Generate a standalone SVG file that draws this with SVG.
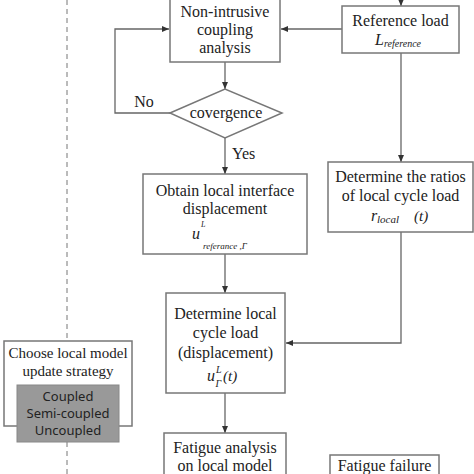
<svg xmlns="http://www.w3.org/2000/svg" width="474" height="474" viewBox="0 0 474 474">
<defs>
<marker id="ah" markerWidth="8" markerHeight="8" refX="7" refY="4" orient="auto" markerUnits="userSpaceOnUse">
<path d="M0,1 L7,4 L0,7 Z" fill="#333"/>
</marker>
<style>
.box{fill:#fff;stroke:#777;stroke-width:1.5}
.ln{fill:none;stroke:#666;stroke-width:1.3}
.t{font-family:"Liberation Serif","Times New Roman",serif;font-size:16px;fill:#222;text-anchor:middle}
.it{font-family:"Liberation Serif","Times New Roman",serif;font-style:italic;fill:#222}
.s{font-family:"Noto Sans","Liberation Sans",Arial,sans-serif;font-size:13px;fill:#222;text-anchor:middle}
</style>
</defs>
<rect width="474" height="474" fill="#fff"/>
<g id="divider">
<line x1="67" y1="0" x2="67" y2="341" stroke="#777" stroke-width="1" stroke-dasharray="5,4"/>
<line x1="67" y1="442" x2="67" y2="474" stroke="#777" stroke-width="1" stroke-dasharray="5,4"/>
</g>
<g id="connectors">
<path class="ln" d="M401,0 L401,6" marker-end="url(#ah)"/>
<path class="ln" d="M342,29 L281,29" marker-end="url(#ah)"/>
<path class="ln" d="M225,62 L225,89" marker-end="url(#ah)"/>
<path class="ln" d="M170,113 L115,113 L115,29 L169,29" marker-end="url(#ah)"/>
<path class="ln" d="M225,138 L225,174" marker-end="url(#ah)"/>
<path class="ln" d="M401,53 L401,162" marker-end="url(#ah)"/>
<path class="ln" d="M225,254 L225,293" marker-end="url(#ah)"/>
<path class="ln" d="M401,232 L401,343 L286,343" marker-end="url(#ah)"/>
<path class="ln" d="M225,393 L225,433" marker-end="url(#ah)"/>
<text x="144" y="107" class="t">No</text>
<text x="232" y="159" class="t" style="text-anchor:start">Yes</text>
</g>
<g id="coupling">
<rect class="box" x="170" y="-5" width="110" height="67"/>
<text class="t" x="225" y="17">Non-intrusive</text>
<text class="t" x="225" y="35">coupling</text>
<text class="t" x="225" y="53">analysis</text>
</g>
<g id="reference">
<rect class="box" x="342" y="6" width="117" height="47"/>
<text class="t" x="400.5" y="26">Reference load</text>
<text class="it" x="375" y="45" font-size="16">L</text>
<text class="it" x="384" y="47" font-size="10">reference</text>
</g>
<g id="convergence">
<polygon points="170,113 225,89 282,113 225,138" fill="#fff" stroke="#777" stroke-width="1.5"/>
<text class="t" x="226" y="118">covergence</text>
</g>
<g id="obtain">
<rect class="box" x="143" y="174" width="164" height="80"/>
<text class="t" x="225" y="196">Obtain local interface</text>
<text class="t" x="225" y="214">displacement</text>
<text class="it" x="192" y="239" font-size="16">u</text>
<text class="it" x="201" y="227" font-size="8">L</text>
<text class="it" x="203" y="249" font-size="9">referance ,Γ</text>
</g>
<g id="ratios">
<rect class="box" x="328" y="162" width="145" height="70"/>
<text class="t" x="400.5" y="182">Determine the ratios</text>
<text class="t" x="400.5" y="201">of local cycle load</text>
<text class="it" x="371" y="221" font-size="16">r</text>
<text class="it" x="377" y="223" font-size="11">local</text>
<text class="it" x="414" y="221" font-size="15">(t)</text>
</g>
<g id="determine">
<rect class="box" x="166" y="293" width="119" height="100"/>
<text class="t" x="225.5" y="319">Determine local</text>
<text class="t" x="225.5" y="338">cycle load</text>
<text class="t" x="225.5" y="358">(displacement)</text>
<text class="it" x="207" y="381" font-size="16">u</text>
<text class="it" x="216" y="373" font-size="10">L</text>
<text class="it" x="215.5" y="387" font-size="10" font-style="normal">Γ</text>
<text class="it" x="223" y="381" font-size="15">(t)</text>
</g>
<g id="strategy">
<rect class="box" x="4" y="341" width="128" height="85"/>
<text class="t" x="68" y="358" style="font-size:15px">Choose local model</text>
<text class="t" x="68" y="376" style="font-size:15px">update strategy</text>
<rect x="17" y="385" width="102" height="57" fill="#999" stroke="#888" stroke-width="1"/>
<text class="s" x="68" y="401">Coupled</text>
<text class="s" x="68" y="418">Semi-coupled</text>
<text class="s" x="68" y="435">Uncoupled</text>
</g>
<g id="fatigue-analysis">
<rect class="box" x="164" y="433" width="122" height="50"/>
<text class="t" x="225" y="453">Fatigue analysis</text>
<text class="t" x="225" y="471">on local model</text>
</g>
<g id="fatigue-failure">
<rect class="box" x="330" y="455" width="109" height="30"/>
<text class="t" x="384.5" y="471">Fatigue failure</text>
</g>
</svg>
